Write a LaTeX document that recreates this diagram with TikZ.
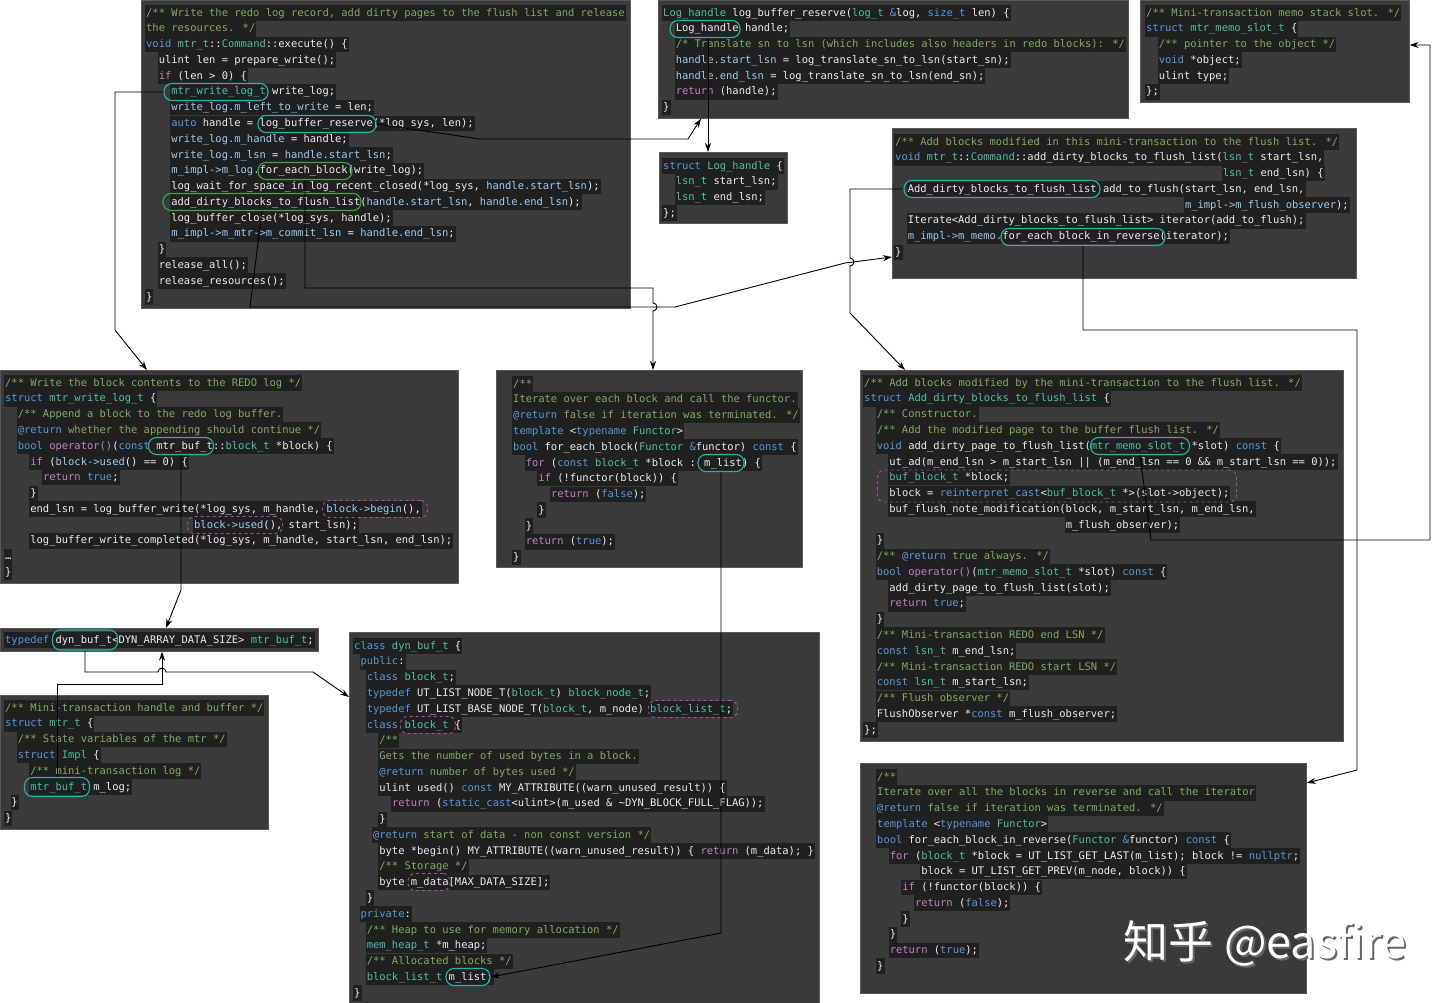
\documentclass[tikz,border=0pt]{standalone}
\usepackage{fontspec}
\usetikzlibrary{arrows.meta}
\newfontfamily\codefont{DejaVu Sans Mono}
\newfontfamily\cjkfont{Noto Sans CJK SC}
\definecolor{boxbg}{RGB}{58,58,58}
\definecolor{boxedge}{RGB}{88,88,88}
\definecolor{linebg}{RGB}{32,32,32}
\definecolor{codetext}{RGB}{236,236,236}
\definecolor{cmtgreen}{RGB}{128,170,96}
\definecolor{kwblue}{RGB}{86,150,216}
\definecolor{tyteal}{RGB}{76,190,170}
\definecolor{flowpink}{RGB}{192,126,192}
\definecolor{varblue}{RGB}{156,204,240}
\definecolor{ringteal}{RGB}{38,178,168}
\definecolor{ringgreen}{RGB}{56,168,74}
\definecolor{ringpurple}{RGB}{172,72,172}
% syntax colouring
\newcommand\ccm[1]{\textcolor{cmtgreen}{#1}}
\newcommand\ckw[1]{\textcolor{kwblue}{#1}}
\newcommand\cty[1]{\textcolor{tyteal}{#1}}
\newcommand\cfl[1]{\textcolor{flowpink}{#1}}
\newcommand\cva[1]{\textcolor{varblue}{#1}}

\begin{document}
\catcode`\_=12
\begin{tikzpicture}[x=1pt, y=-1pt, >={Stealth[length=9pt,width=6pt]},
  codebox/.style={anchor=north west, fill=boxbg, draw=boxedge, line width=0.6pt, inner sep=0pt},
  codeline/.style={anchor=west, fill=linebg, text=codetext, inner xsep=1pt, inner ysep=0pt,
    text height=11pt, text depth=4.7pt, font=\codefont\fontsize{10.46pt}{15.77pt}\selectfont},
  tealring/.style={draw=ringteal, line width=1.1pt, rounded corners=8pt, inner sep=0pt, minimum height=17pt},
  greenring/.style={tealring, draw=ringgreen},
  purplering/.style={draw=ringpurple, line width=0.9pt, dashed, rounded corners=7pt, inner sep=0pt, minimum height=17pt},
  link/.style={->, line width=0.9pt, black}]
  \useasboundingbox (0,0) rectangle (1440,1003);

  % mtr_t::Command::execute()
  \node[codebox, minimum width=489pt, minimum height=308pt] (cmdexec) at (141,0) {};
  \foreach \col/\code [count=\i from 0] in {
    0/{\ccm{/** Write the redo log record, add dirty pages to the flush list and release}},
    0/{\ccm{the resources. */}},
    0/{\ckw{void} \cty{mtr_t}::\cty{Command}::execute() \{},
    2/{ulint len = prepare_write();},
    2/{\cfl{if} (len > 0) \{},
    4/{\cty{mtr_write_log_t} write_log;},
    4/{\cva{write_log.m_left_to_write} = len;},
    4/{\ckw{auto} handle = log_buffer_reserve(*log_sys, len);},
    4/{\cva{write_log.m_handle} = handle;},
    4/{\cva{write_log.m_lsn} = \cva{handle.start_lsn};},
    4/{\cva{m_impl->m_log.}for_each_block(write_log);},
    4/{log_wait_for_space_in_log_recent_closed(*log_sys, \cva{handle.start_lsn});},
    4/{add_dirty_blocks_to_flush_list(\cva{handle.start_lsn}, \cva{handle.end_lsn});},
    4/{log_buffer_close(*log_sys, handle);},
    4/{\cva{m_impl->m_mtr->m_commit_lsn} = \cva{handle.end_lsn};},
    2/{\}},
    2/{release_all();},
    2/{release_resources();},
    0/{\}}}
    \node[codeline] at (145+\col*6.3, 13+\i*15.77) {\code};

  % log_buffer_reserve()
  \node[codebox, minimum width=470pt, minimum height=118pt] (bufreserve) at (658,0) {};
  \foreach \col/\code [count=\i from 0] in {
    0/{\cty{Log_handle} log_buffer_reserve(\cty{log_t} \ckw{\&}log, \ckw{size_t} len) \{},
    2/{Log_handle handle;},
    2/{\ccm{/* Translate sn to lsn (which includes also headers in redo blocks): */}},
    2/{\cva{handle.start_lsn} = log_translate_sn_to_lsn(start_sn);},
    2/{\cva{handle.end_lsn} = log_translate_sn_to_lsn(end_sn);},
    2/{\cfl{return} (handle);},
    0/{\}}}
    \node[codeline] at (662+\col*6.3, 13+\i*15.77) {\code};

  % mtr_memo_slot_t
  \node[codebox, minimum width=269pt, minimum height=102pt] (memoslot) at (1140,0) {};
  \foreach \col/\code [count=\i from 0] in {
    0/{\ccm{/** Mini-transaction memo stack slot. */}},
    0/{\ckw{struct} \cty{mtr_memo_slot_t} \{},
    2/{\ccm{/** pointer to the object */}},
    2/{\ckw{void} *object;},
    2/{ulint type;},
    0/{\};}}
    \node[codeline] at (1145+\col*6.3, 13+\i*15.77) {\code};

  % struct Log_handle
  \node[codebox, minimum width=128pt, minimum height=71pt] (loghandle) at (659,152) {};
  \foreach \col/\code [count=\i from 0] in {
    0/{\ckw{struct} \cty{Log_handle} \{},
    2/{\cty{lsn_t} start_lsn;},
    2/{\cty{lsn_t} end_lsn;},
    0/{\};}}
    \node[codeline] at (662+\col*6.3, 166+\i*15.77) {\code};

  % mtr_t::Command::add_dirty_blocks_to_flush_list()
  \node[codebox, minimum width=464pt, minimum height=150pt] (adddirty) at (892,128) {};
  \foreach \col/\code [count=\i from 0] in {
    0/{\ccm{/** Add blocks modified in this mini-transaction to the flush list. */}},
    0/{\ckw{void} \cty{mtr_t}::\cty{Command}::add_dirty_blocks_to_flush_list(\cty{lsn_t} start_lsn,},
    52/{\cty{lsn_t} end_lsn) \{},
    2/{Add_dirty_blocks_to_flush_list add_to_flush(start_lsn, end_lsn,},
    46/{\cva{m_impl->m_flush_observer});},
    2/{Iterate<Add_dirty_blocks_to_flush_list> iterator(add_to_flush);},
    2/{\cva{m_impl->m_memo.}for_each_block_in_reverse(iterator);},
    0/{\}}}
    \node[codeline] at (894+\col*6.3, 142+\i*15.77) {\code};

  % struct mtr_write_log_t
  \node[codebox, minimum width=458pt, minimum height=213pt] (writelog) at (0,370) {};
  \foreach \col/\code [count=\i from 0] in {
    0/{\ccm{/** Write the block contents to the REDO log */}},
    0/{\ckw{struct} \cty{mtr_write_log_t} \{},
    2/{\ccm{/** Append a block to the redo log buffer.}},
    2/{\ckw{@return} \ccm{whether the appending should continue */}},
    2/{\ckw{bool} \cfl{operator()}(\ckw{const} mtr_buf_t::\cty{block_t} *block) \{},
    4/{\cfl{if} (\cva{block->used}() == 0) \{},
    6/{\cfl{return} \ckw{true};},
    4/{\}},
    4/{end_lsn = log_buffer_write(*log_sys, m_handle, \cva{block->begin}(),},
    30/{\cva{block->used}(), start_lsn);},
    4/{log_buffer_write_completed(*log_sys, m_handle, start_lsn, end_lsn);},
    0/{…},
    0/{\}}}
    \node[codeline] at (4+\col*6.3, 383+\i*15.77) {\code};

  % for_each_block()
  \node[codebox, minimum width=306pt, minimum height=197pt] (foreach) at (496,370) {};
  \foreach \col/\code [count=\i from 0] in {
    0/{\ccm{/**}},
    0/{\ccm{Iterate over each block and call the functor.}},
    0/{\ckw{@return} \ccm{false if iteration was terminated. */}},
    0/{\ckw{template} <\ckw{typename} \cty{Functor}>},
    0/{\ckw{bool} for_each_block(\cty{Functor} \ckw{\&}functor) \ckw{const} \{},
    2/{\cfl{for} (\ckw{const} \cty{block_t} *block : m_list) \{},
    4/{\cfl{if} (!functor(block)) \{},
    6/{\cfl{return} (\ckw{false});},
    4/{\}},
    2/{\}},
    2/{\cfl{return} (\ckw{true});},
    0/{\}}}
    \node[codeline] at (512+\col*6.3, 384+\i*15.77) {\code};

  % struct Add_dirty_blocks_to_flush_list
  \node[codebox, minimum width=483pt, minimum height=371pt] (flushlist) at (860,370) {};
  \foreach \col/\code [count=\i from 0] in {
    0/{\ccm{/** Add blocks modified by the mini-transaction to the flush list. */}},
    0/{\ckw{struct} \cty{Add_dirty_blocks_to_flush_list} \{},
    2/{\ccm{/** Constructor.}},
    2/{\ccm{/** Add the modified page to the buffer flush list. */}},
    2/{\ckw{void} add_dirty_page_to_flush_list(\cty{mtr_memo_slot_t} *slot) \ckw{const} \{},
    4/{ut_ad(m_end_lsn > m_start_lsn || (m_end_lsn == 0 \&\& m_start_lsn == 0));},
    4/{\cty{buf_block_t} *block;},
    4/{block = \ckw{reinterpret_cast}<\cty{buf_block_t} *>(slot->object);},
    4/{buf_flush_note_modification(block, m_start_lsn, m_end_lsn,},
    32/{m_flush_observer);},
    2/{\}},
    2/{\ccm{/** }\ckw{@return} \ccm{true always. */}},
    2/{\ckw{bool} \cfl{operator()}(\cty{mtr_memo_slot_t} *slot) \ckw{const} \{},
    4/{add_dirty_page_to_flush_list(slot);},
    4/{\cfl{return} \ckw{true};},
    2/{\}},
    2/{\ccm{/** Mini-transaction REDO end LSN */}},
    2/{\ckw{const} \cty{lsn_t} m_end_lsn;},
    2/{\ccm{/** Mini-transaction REDO start LSN */}},
    2/{\ckw{const} \cty{lsn_t} m_start_lsn;},
    2/{\ccm{/** Flush observer */}},
    2/{FlushObserver *\ckw{const} m_flush_observer;},
    0/{\};}}
    \node[codeline] at (863+\col*6.3, 383+\i*15.77) {\code};

  % typedef mtr_buf_t
  \node[codebox, minimum width=318pt, minimum height=23pt] (mtrbuf) at (0,628) {};
  \node[codeline] (mtrbufline) at (4,640) {\ckw{typedef} dyn_buf_t<DYN_ARRAY_DATA_SIZE> \cty{mtr_buf_t};};

  % struct mtr_t
  \node[codebox, minimum width=268pt, minimum height=134pt] (mtrt) at (0,695) {};
  \foreach \col/\code [count=\i from 0] in {
    0/{\ccm{/** Mini-transaction handle and buffer */}},
    0/{\ckw{struct} \cty{mtr_t} \{},
    2/{\ccm{/** State variables of the mtr */}},
    2/{\ckw{struct} \cty{Impl} \{},
    4/{\ccm{/** mini-transaction log */}},
    4/{\cty{mtr_buf_t} m_log;},
    1/{\}},
    0/{\}}}
    \node[codeline] at (4+\col*6.3, 708+\i*15.77) {\code};

  % class dyn_buf_t
  \node[codebox, minimum width=470pt, minimum height=372pt] (dynbuf) at (349,632) {};
  \foreach \col/\code [count=\i from 0] in {
    0/{\ckw{class} \cty{dyn_buf_t} \{},
    1/{\ckw{public}:},
    2/{\ckw{class} \cty{block_t};},
    2/{\ckw{typedef} UT_LIST_NODE_T(\cty{block_t}) \cty{block_node_t};},
    2/{\ckw{typedef} UT_LIST_BASE_NODE_T(\cty{block_t}, m_node) \cty{block_list_t};},
    2/{\ckw{class} \cty{block_t} \{},
    4/{\ccm{/**}},
    4/{\ccm{Gets the number of used bytes in a block.}},
    4/{\ckw{@return} \ccm{number of bytes used */}},
    4/{ulint used() \ckw{const} MY_ATTRIBUTE((warn_unused_result)) \{},
    6/{\cfl{return} (\ckw{static_cast}<ulint>(m_used \& \textasciitilde DYN_BLOCK_FULL_FLAG));},
    4/{\}},
    3/{\ckw{@return} \ccm{start of data - non const version */}},
    4/{byte *begin() MY_ATTRIBUTE((warn_unused_result)) \{ \cfl{return} (m_data); \}},
    4/{\ccm{/** Storage */}},
    4/{byte m_data[MAX_DATA_SIZE];},
    2/{\}},
    1/{\ckw{private}:},
    2/{\ccm{/** Heap to use for memory allocation */}},
    2/{\cty{mem_heap_t} *m_heap;},
    2/{\ccm{/** Allocated blocks */}},
    2/{\cty{block_list_t} m_list;},
    0/{\}}}
    \node[codeline] at (353+\col*6.3, 646+\i*15.77) {\code};

  % for_each_block_in_reverse()
  \node[codebox, minimum width=446pt, minimum height=230pt] (foreachrev) at (860,763) {};
  \foreach \col/\code [count=\i from 0] in {
    0/{\ccm{/**}},
    0/{\ccm{Iterate over all the blocks in reverse and call the iterator}},
    0/{\ckw{@return} \ccm{false if iteration was terminated. */}},
    0/{\ckw{template} <\ckw{typename} \cty{Functor}>},
    0/{\ckw{bool} for_each_block_in_reverse(\cty{Functor} \ckw{\&}functor) \ckw{const} \{},
    2/{\cfl{for} (\cty{block_t} *block = UT_LIST_GET_LAST(m_list); block != \ckw{nullptr};},
    7/{block = UT_LIST_GET_PREV(m_node, block)) \{},
    4/{\cfl{if} (!functor(block)) \{},
    6/{\cfl{return} (\ckw{false});},
    4/{\}},
    2/{\}},
    2/{\cfl{return} (\ckw{true});},
    0/{\}}}
    \node[codeline] at (876+\col*6.3, 777+\i*15.77) {\code};

  % highlighted names
  \node[tealring, minimum width=104pt] (hlWriteLog) at (216,92) {};
  \node[tealring, minimum width=118pt] (hlReserve) at (317,124) {};
  \node[greenring, minimum width=94pt] (hlForEach) at (305,171) {};
  \node[greenring, minimum width=198pt] (hlAddDirty) at (262,202) {};
  \node[tealring, minimum width=70pt] (hlLogHandle) at (705,29) {};
  \node[tealring, minimum width=196pt] (hlFlushList) at (1002,189) {};
  \node[tealring, minimum width=164pt] (hlForEachRev) at (1083,237) {};
  \node[tealring, minimum width=65pt] (hlBufT) at (181,446) {};
  \node[tealring, minimum width=46pt] (hlMList) at (721,463) {};
  \node[tealring, minimum width=99pt] (hlSlot) at (1140,446) {};
  \node[tealring, minimum width=65pt, minimum height=20pt] (hlDynBuf) at (85,640) {};
  \node[tealring, minimum width=65pt, minimum height=19pt] (hlMtrBuf) at (57,787) {};
  \node[tealring, minimum width=44pt] (hlMListDecl) at (468,977) {};
  \node[purplering, minimum width=105pt] (dsBegin) at (375,509) {};
  \node[purplering, minimum width=95pt] (dsUsed) at (235,525) {};
  \node[purplering, minimum width=359pt, minimum height=32pt] (dsBlock) at (1057,486) {};
  \node[purplering, minimum width=89pt] (dsBlockList) at (693,709) {};
  \node[purplering, minimum width=55pt] (dsBlockT) at (428,725) {};
  \node[purplering, minimum width=42pt] (dsData) at (429,882) {};

  % call / type links
  \draw[link] (hlWriteLog.west) -| (115,330) -- ([xshift=147pt]writelog.north west);
  \draw[link] (hlReserve.east) -- (480,139) -- (688,139) -- ([xshift=43pt]bufreserve.south west);
  \draw[link] ([xshift=3pt]hlLogHandle.south) -- ([xshift=49pt]loghandle.north west);
  \draw[link] (hlForEach.south) |- (653,288) -- (653,303)
    arc[start angle=-90, end angle=90, radius=4] -- ([xshift=157pt]foreach.north west);
  \draw[link] (hlAddDirty.south) -- (250,307) -- (675,307) -- (845,263)
    -- ([yshift=-129pt]adddirty.north west);
  \draw[link] (hlFlushList.west) -| (850,258)
    arc[start angle=-90, end angle=90, radius=4] -- (850,313) -- ([xshift=45pt]flushlist.north west);
  \draw[link] (hlForEachRev.south) |- (1357,330) -- (1357,770) -- ([yshift=-20pt]foreachrev.north east);
  \draw[link] (hlSlot.south) -- (1151,540) -- (1430,540) |- ([yshift=-45pt]memoslot.north east);
  \draw[link] (hlBufT.south) -- (181,590) -- ([xshift=166pt]mtrbuf.north west);
  \draw[link] (hlDynBuf.south) |- (158,672)
    arc[start angle=180, end angle=360, radius=4] -- (313,672) -- ([yshift=-65pt]dynbuf.north west);
  \draw[link] (hlMtrBuf.north) |- (162,684) -- ([xshift=162pt]mtrbuf.south west);
  \draw[link] (hlMList.south) -- (721,933) -- (hlMListDecl.east);

  % watermark
  \node[font=\cjkfont\fontsize{45pt}{45pt}\selectfont, text=black!60] (markshade) at (1267,945) {知乎 @easfire};
  \node[font=\cjkfont\fontsize{45pt}{45pt}\selectfont, text=white] (mark) at (1265,943) {知乎 @easfire};
\end{tikzpicture}
\end{document}
